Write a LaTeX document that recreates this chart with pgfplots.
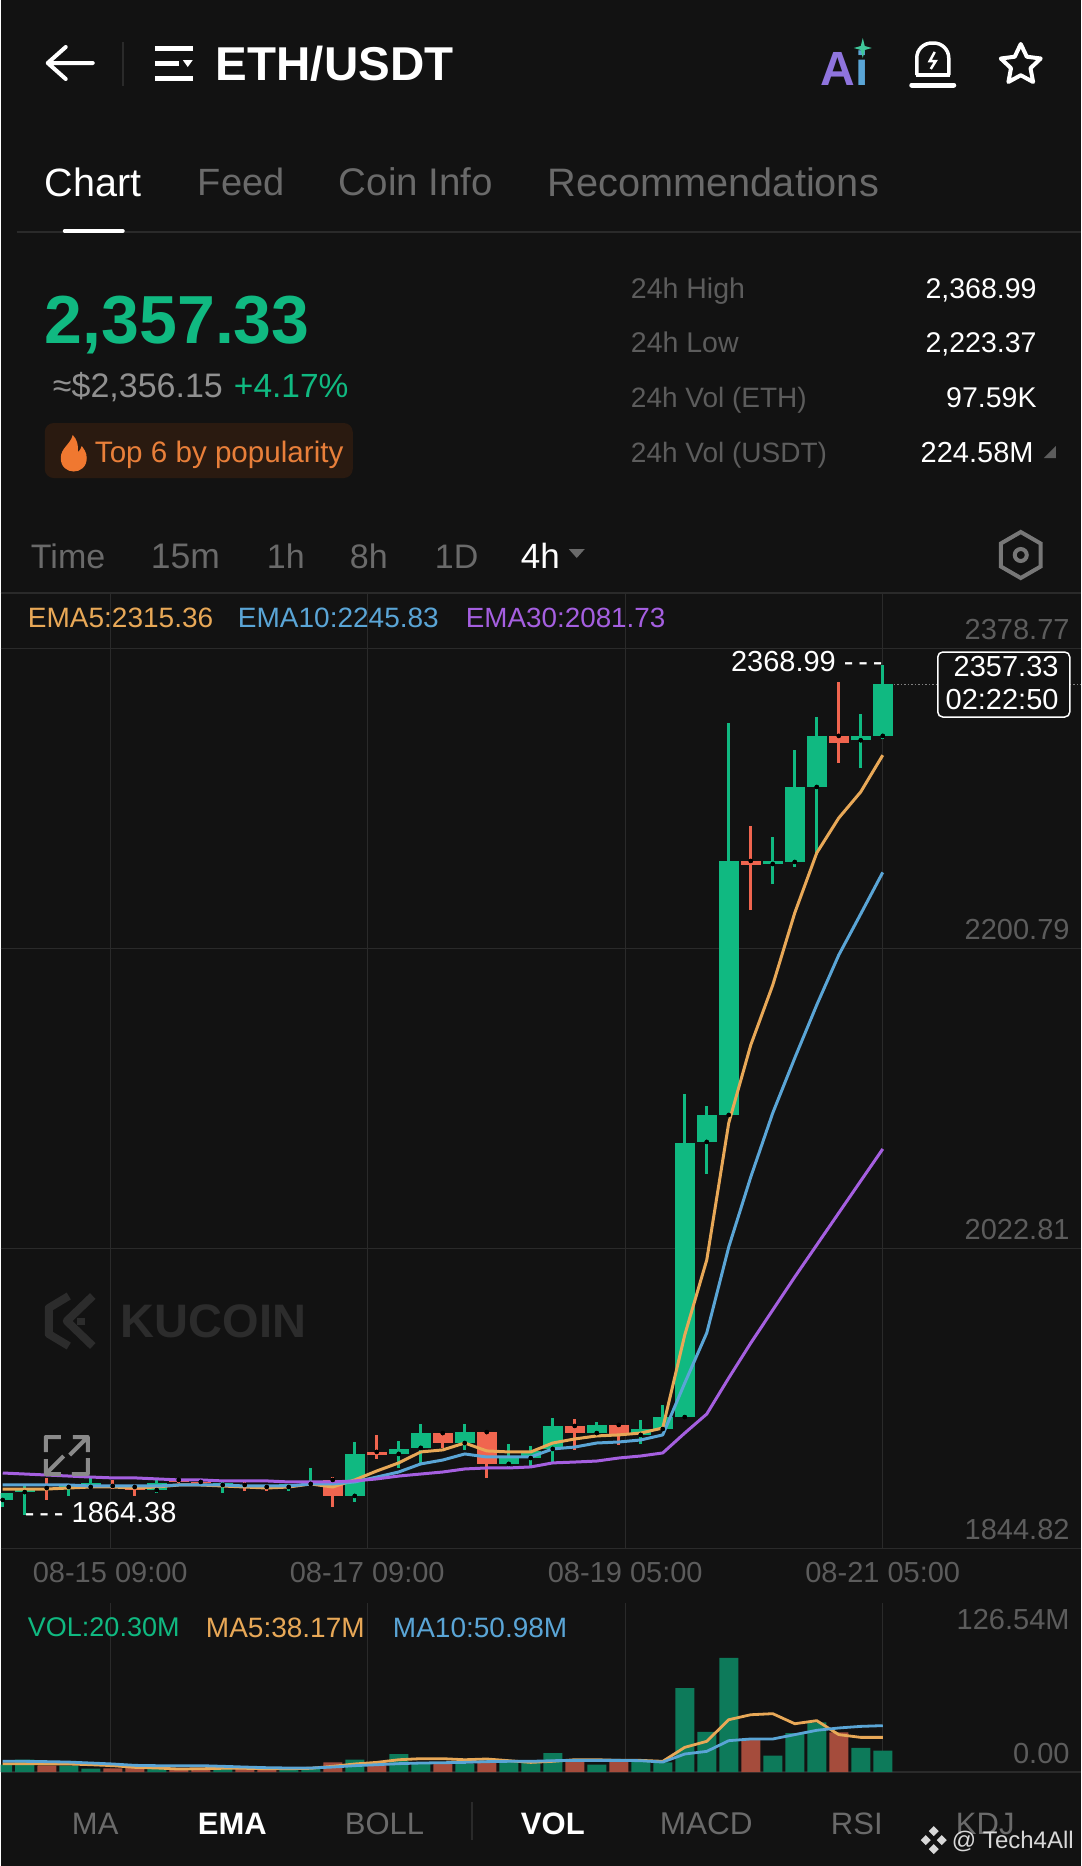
\documentclass[border=0pt]{standalone}
\usepackage{pgfplots}
\usepackage{pgfplotstable}
\usepackage{fontspec}
\setmainfont{Liberation Sans}
\pgfplotsset{compat=1.18}
\usetikzlibrary{shapes.geometric}
\definecolor{bg}{HTML}{121212}
\definecolor{gridc}{HTML}{2A2A2A}
\definecolor{cup}{HTML}{10B981}
\definecolor{cdn}{HTML}{F0654F}
\definecolor{vup}{HTML}{0D7A5A}
\definecolor{vdn}{HTML}{A54C3C}
\definecolor{ema5}{HTML}{E8A857}
\definecolor{ema10}{HTML}{5AA5D6}
\definecolor{ema30}{HTML}{A55FE0}
\definecolor{axt}{HTML}{5C5C5C}
\definecolor{mut}{HTML}{909090}
\definecolor{tab}{HTML}{6A6A6A}
\definecolor{pill}{HTML}{2A1A10}
\definecolor{flame}{HTML}{F07830}
\definecolor{poptx}{HTML}{E87F3A}
\definecolor{gearc}{HTML}{777777}
\definecolor{wm}{HTML}{2C2C2C}
\definecolor{expc}{HTML}{8A8A8A}
\definecolor{markc}{HTML}{D8D8D8}
\newcommand\fs[1]{\fontsize{#1}{#1}\selectfont}
\newcommand\tl[5]{\node[anchor=base west,inner sep=0pt,text=#4,font=\fs{#3},yshift=-0.36*#3pt] at (#1,#2) {#5};}
\newcommand\tr[5]{\node[anchor=base east,inner sep=0pt,text=#4,font=\fs{#3},yshift=-0.36*#3pt] at (#1,#2) {#5};}
% candles: i open high low close (green: close>open, red: close<open)
\pgfplotstableread{
i o h l c
0 1873.5 1877.7 1869.3 1877.7
1 1878.2 1882.4 1864.38 1880.6
3 1881.2 1881.8 1875.9 1881.8
4 1881.2 1886.6 1880.6 1883.6
7 1879.4 1885.4 1877.7 1883.6
10 1882.4 1884.2 1877.7 1883.6
13 1881.2 1883.0 1878.8 1883.0
14 1883.0 1892.5 1883.0 1884.2
16 1875.9 1907.9 1872.3 1900.8
18 1900.8 1908.5 1892.5 1903.8
19 1904.4 1918.6 1895.5 1913.2
21 1907.3 1918.6 1903.2 1913.8
23 1894.9 1906.7 1892.5 1899.6
24 1898.4 1905.5 1893.7 1902.6
25 1903.8 1922.1 1895.5 1917.4
27 1913.2 1919.8 1913.2 1918.0
29 1912.1 1921.0 1906.7 1915.6
30 1915.6 1929.9 1915.6 1922.7
31 1922.7 2114.4 1922.1 2085.3
32 2085.9 2107.3 2066.9 2101.9
33 2101.9 2334.5 2101.9 2252.6
35 2250.8 2266.9 2238.9 2252.6
36 2252.0 2318.5 2249.0 2296.5
37 2296.5 2338.1 2256.2 2326.8
39 2324.2 2339.8 2307.8 2326.8
40 2326.8 2368.99 2325.0 2357.33
}\upc
\pgfplotstableread{
i o h l c
2 1880.6 1886.6 1873.5 1880.0
5 1881.8 1885.4 1880.0 1880.6
6 1881.2 1881.2 1875.9 1879.4
8 1885.4 1886.0 1883.6 1884.2
9 1884.2 1885.4 1882.4 1883.6
11 1882.4 1884.8 1878.8 1881.2
12 1881.2 1881.2 1878.8 1880.6
15 1885.4 1887.1 1869.3 1875.9
17 1902.0 1912.1 1897.8 1900.2
20 1913.2 1913.8 1904.4 1907.3
22 1913.8 1913.8 1886.6 1894.9
26 1917.4 1921.6 1903.2 1913.2
28 1918.0 1919.2 1906.1 1912.7
34 2252.6 2273.4 2223.37 2250.4
38 2326.8 2358.5 2310.8 2322.6
}\dnc
% moving averages of price
\pgfplotstableread{
i e5 e10 e30
0 1880.0 1882.4 1889.5
1 1880.0 1882.4 1888.9
2 1880.0 1882.4 1888.3
3 1880.6 1882.4 1887.7
4 1881.2 1881.8 1887.1
5 1881.2 1881.8 1886.6
6 1880.6 1881.8 1886.6
7 1881.2 1881.8 1886.0
8 1882.4 1882.4 1885.4
9 1882.4 1882.4 1885.4
10 1881.8 1882.4 1884.8
11 1881.2 1881.8 1884.8
12 1880.6 1881.8 1884.8
13 1881.2 1881.8 1884.2
14 1883.0 1883.0 1884.2
15 1881.2 1883.0 1884.2
16 1885.4 1884.2 1884.8
17 1890.7 1887.1 1886.0
18 1895.5 1890.1 1887.7
19 1902.0 1894.9 1888.9
20 1903.2 1897.2 1890.1
21 1907.3 1900.8 1891.9
22 1902.6 1899.0 1892.5
23 1902.0 1899.0 1892.5
24 1902.0 1899.0 1893.1
25 1907.3 1903.8 1895.5
26 1909.7 1904.9 1896.0
27 1911.5 1907.3 1896.6
28 1912.1 1907.9 1898.4
29 1913.2 1909.1 1899.6
30 1916.2 1912.1 1901.4
31 1971.4 1942.9 1913.2
32 2015.9 1972.6 1924.5
33 2097.2 2023.6 1945.9
34 2143.4 2065.1 1966.6
35 2179.0 2103.1 1986.2
36 2221.8 2135.7 2005.8
37 2257.4 2167.2 2024.8
38 2278.1 2196.8 2043.8
39 2293.6 2221.2 2062.8
40 2315.36 2245.83 2081.73
}\ema
% volume
\pgfplotstableread{
i v
0 6.9
1 11.6
3 6.0
4 3.1
7 4.4
10 5.4
13 4.4
14 4.4
16 11.6
18 17.0
19 8.5
21 7.6
23 10.1
24 9.1
25 17.9
27 6.9
29 10.1
30 9.1
31 79.3
32 37.8
33 107.7
35 15.4
36 36.8
37 46.9
39 22.7
40 20.3
}\volup
\pgfplotstableread{
i v
2 6.0
5 3.5
6 3.8
8 3.8
9 3.8
11 3.5
12 3.5
15 9.1
17 9.4
20 7.6
22 8.5
26 11.6
28 10.1
34 30.5
38 37.5
}\voldn
\pgfplotstableread{
i m5 m10
0 7.9 10.1
1 7.9 10.1
2 7.6 9.8
3 7.6 9.4
4 6.9 8.5
5 6.0 7.6
6 4.4 6.3
7 3.8 6.0
8 2.8 6.0
9 3.1 6.0
10 3.5 5.4
11 3.5 4.7
12 3.1 4.1
13 3.1 3.8
14 3.5 3.8
15 5.4 4.7
16 7.6 6.0
17 9.1 6.9
18 11.6 7.9
19 12.6 8.5
20 12.6 8.8
21 11.6 9.1
22 12.3 9.8
23 10.7 10.1
24 9.1 10.1
25 10.1 10.7
26 11.6 11.0
27 11.6 11.0
28 11.0 11.0
29 11.0 10.7
30 10.1 9.4
31 23.3 17.0
32 29.0 19.5
33 49.4 29.6
34 54.1 31.2
35 55.1 31.2
36 45.6 35.3
37 48.5 39.4
38 35.3 41.6
39 32.7 43.1
40 32.7 43.8
}\vma
\pgfplotsset{
  screen/.style={
    scale only axis, width=1080pt, xmin=-0.0909, xmax=49,
    axis line style={draw=none}, tick style={draw=none}, major tick length=0pt,
    xmajorgrids, grid style={gridc,line width=1.2pt},
    xtick={4.886,16.568,28.295,40},
    yticklabel pos=right, tick label style={inner sep=0pt},
    yticklabel style={anchor=south east,xshift=-11pt,yshift=8pt,text=axt,font=\fs{29}},
  },
  candle/.style={only marks,mark=none,forget plot,error bars/.cd,y dir=both,y explicit,error mark=none,error bar style={line width=3pt,color=#1}},
  cbody/.style={only marks,mark=none,forget plot,error bars/.cd,y dir=both,y explicit,error mark=none,error bar style={line width=20pt,color=#1}},
}
\begin{document}
\begin{tikzpicture}
\begin{scope}[x=1pt,y=-1pt]
\fill[bg] (0,0) rectangle (1080,1866);
\useasboundingbox (0,0) rectangle (1080,1866);
\end{scope}

% ---- price chart
\begin{axis}[screen, at={(0pt,-1548.3pt)}, anchor=south west, height=955.3pt,
  ymin=1844.82, ymax=2411.57,
  ymajorgrids,
  ytick={1844.82,2022.81,2200.79,2378.77},
  yticklabels={1844.82,2022.81,2200.79,2378.77},
  xticklabels={08-15 09:00,08-17 09:00,08-19 05:00,08-21 05:00},
  xticklabel style={text=axt,font=\fs{29},yshift=-14pt,anchor=north},
]
\addplot[candle=cup] table[x=i,y=o,y error plus expr=\thisrow{h}-\thisrow{o},y error minus expr=\thisrow{o}-\thisrow{l}] {\upc};
\addplot[candle=cdn] table[x=i,y=o,y error plus expr=\thisrow{h}-\thisrow{o},y error minus expr=\thisrow{o}-\thisrow{l}] {\dnc};
\addplot[cbody=cup] table[x=i,y=o,y error plus expr=\thisrow{c}-\thisrow{o},y error minus expr=0] {\upc};
\addplot[cbody=cdn] table[x=i,y=o,y error plus expr=0,y error minus expr=\thisrow{o}-\thisrow{c}] {\dnc};
\addplot[ema5,line width=3pt,line join=round] table[x=i,y=e5] {\ema};
\addplot[ema10,line width=3pt,line join=round] table[x=i,y=e10] {\ema};
\addplot[ema30,line width=3pt,line join=round] table[x=i,y=e30] {\ema};
\addplot[gray,dotted,line width=1.5pt] coordinates {(40.5,2357.33)(42.5,2357.33)};
\addplot[gray,dotted,line width=1.5pt] coordinates {(48.5,2357.33)(49,2357.33)};
\end{axis}

% ---- volume chart
\begin{axis}[screen, at={(0pt,-1772pt)}, anchor=south west, height=169pt,
  ymin=0, ymax=159.6,
  ytick={126.54}, yticklabels={126.54M},
  extra y ticks={0}, extra y tick labels={0.00},
  extra y tick style={ymajorgrids=true},
  xticklabels={},
]
\addplot[ybar,bar width=19pt,bar shift=0pt,fill=vup,draw=none] table[x=i,y=v] {\volup};
\addplot[ybar,bar width=19pt,bar shift=0pt,fill=vdn,draw=none] table[x=i,y=v] {\voldn};
\addplot[ema5,line width=2.8pt,line join=round] table[x=i,y=m5] {\vma};
\addplot[ema10,line width=2.8pt,line join=round] table[x=i,y=m10] {\vma};
\end{axis}

% ---- interface
\begin{scope}[x=1pt,y=-1pt]
% header
\draw[white,line width=4pt,line cap=round,line join=round] (92,63)--(47,63) (65,47)--(47,63)--(65,79);
\draw[gridc,line width=1.5pt] (122,42)--(122,86);
\draw[white,line width=5pt] (154,48)--(192,48) (154,63)--(178,63) (154,78)--(192,78);
\fill[white] (182,60)--(192,60)--(187,67)--cycle;
\tl{215}{63}{47.5}{white}{\bfseries ETH/USDT}
\tl{820}{68}{48}{ema30!70!ema10}{\bfseries A}
\tl{855}{68}{48}{ema10}{\bfseries i}
\fill[cup!80!white] (862,38)--(864,46)--(871,48)--(864,50)--(862,58)--(860,50)--(853,48)--(860,46)--cycle;
\draw[white,line width=3.5pt,rounded corners=15pt] (916,75)--(916,43)--(948,43)--(948,75);
\draw[white,line width=3.5pt] (915,75)--(949,75);
\draw[white,line width=5pt,line cap=round] (911,85)--(953,85);
\draw[white,line width=2.5pt] (934,52)--(929,61)--(935,61)--(930,69);
\node[star,star points=5,star point ratio=2.05,draw=white,line width=4pt,minimum size=42pt,inner sep=0pt,line join=round] at (1020,65) {};
% tabs
\tl{44}{182}{39.5}{white}{Chart}
\tl{197}{182}{38}{tab}{Feed}
\tl{338}{182}{38.5}{tab}{Coin Info}
\tl{547}{182}{39.7}{tab}{Recommendations}
\draw[gridc,line width=1.5pt] (16,232)--(1080,232);
\draw[white,line width=4pt,line cap=round] (64,231)--(122,231);
% price block
\tl{44}{319}{68}{cup}{\bfseries 2,357.33}
\tl{52}{385}{34}{mut}{≈\$2,356.15}
\tl{233}{385}{33.5}{cup}{+4.17\%}
\fill[pill,rounded corners=9pt] (44,423) rectangle (352,478);
\fill[flame] (72,435) .. controls (70,444) and (60,448) .. (60,458) .. controls (60,476) and (86,476) .. (86,458) .. controls (86,452) and (83,449) .. (81,446) .. controls (80,449) and (79,451) .. (77,452) .. controls (78,445) and (76,439) .. (72,435) -- cycle;
\tl{94}{452}{29.6}{poptx}{Top 6 by popularity}
% stats
\tl{630}{288}{28.5}{axt}{24h High}
\tl{630}{342.5}{28.5}{axt}{24h Low}
\tl{630}{397}{28}{axt}{24h Vol (ETH)}
\tl{630}{452}{28}{axt}{24h Vol (USDT)}
\tr{1036}{288}{28.5}{white}{2,368.99}
\tr{1036}{342.5}{28.5}{white}{2,223.37}
\tr{1036}{397}{28.5}{white}{97.59K}
\tr{1033}{452}{29}{white}{224.58M}
\fill[axt] (1043,458)--(1055,458)--(1055,446)--cycle;
% interval row
\tl{30}{556}{34}{tab}{Time}
\tl{150}{556}{35.5}{tab}{15m}
\tl{266}{556}{34}{tab}{1h}
\tl{349}{556}{34}{tab}{8h}
\tl{434}{556}{34}{tab}{1D}
\tl{520}{556}{35}{white}{4h}
\fill[tab] (568,549)--(584,549)--(576,558)--cycle;
\node[regular polygon,regular polygon sides=6,draw=gearc,line width=4pt,minimum size=46pt,inner sep=0pt,shape border rotate=30] at (1020,555) {};
\draw[gearc,line width=4pt] (1020,555) circle (6);
\draw[gridc,line width=1.5pt] (0,593)--(1080,593);
% legends
\tl{27}{617}{28}{ema5}{EMA5:2315.36}
\tl{237}{617}{28}{ema10}{EMA10:2245.83}
\tl{465}{617}{27.8}{ema30}{EMA30:2081.73}
\tl{27}{1627}{27}{cup}{VOL:20.30M}
\tl{205}{1627}{28}{ema5}{MA5:38.17M}
\tl{392}{1627}{28}{ema10}{MA10:50.98M}
% annotations
\tr{882}{661}{29}{white}{2368.99 {-}\,{-}\,{-}}
\tl{24}{1512}{29}{white}{{-}\,{-}\,{-} 1864.38}
\draw[white,line width=1.5pt,rounded corners=5pt,fill=bg] (937,652) rectangle (1069,717);
\tr{1058}{666}{29}{white}{2357.33}
\tr{1058}{699}{29}{white}{02:22:50}
% watermark
\draw[wm,line width=8pt,line join=round] (68,1296)--(48,1308)--(48,1334)--(68,1346);
\draw[wm,line width=8pt,line join=round] (92,1296)--(66,1321)--(92,1346);
\draw[wm,line width=7pt] (76,1321)--(84,1321);
\tl{120}{1321}{47}{wm}{\bfseries KUCOIN}
% expand icon
\draw[expc,line width=4pt,line join=round]
  (45,1452)--(45,1437)--(60,1437) (87,1458)--(87,1474)--(71,1474)
  (72,1437)--(87,1437)--(87,1452) (87,1437)--(69,1455)
  (45,1459)--(45,1474)--(60,1474) (45,1474)--(63,1456);
% bottom bar
\tl{71}{1823}{31}{tab}{MA}
\tl{197}{1823}{31}{white}{\bfseries EMA}
\tl{344}{1823}{31}{tab}{BOLL}
\draw[gridc,line width=1.5pt] (471,1802)--(471,1840);
\tl{520}{1823}{31}{white}{\bfseries VOL}
\tl{659}{1823}{31.5}{tab}{MACD}
\tl{830}{1823}{31}{tab}{RSI}
\tl{955}{1823}{31}{tab}{KDJ}
% author mark
\tl{951}{1840}{24}{markc}{@ Tech4All}
\foreach \a/\b in {933/1831,925/1840,941/1840,933/1849}{
  \fill[markc] (\a,\b-5)--(\a+5,\b)--(\a,\b+5)--(\a-5,\b)--cycle;
}
\end{scope}
\end{tikzpicture}
\end{document}
